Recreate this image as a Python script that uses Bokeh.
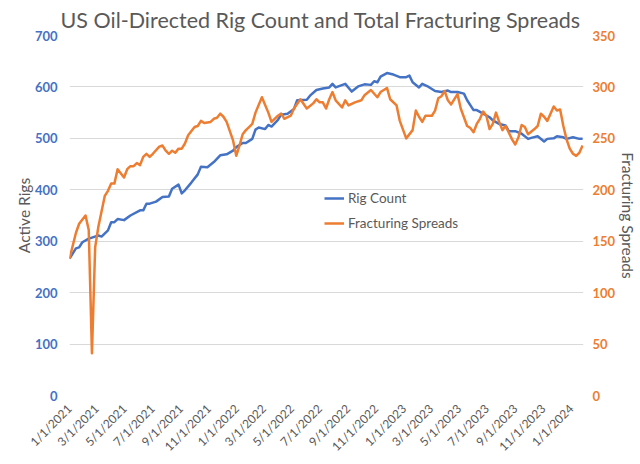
import pandas as pd
from bokeh.plotting import figure
from bokeh.models import Range1d, LinearAxis, FixedTicker, Legend, LegendItem
from bokeh.embed import file_html
from bokeh.resources import INLINE

START = "2021-01-01"

# weeks since 2021-01-01 and weekly values
rig_weeks = [0, 2, 3, 4, 6, 7, 9, 10, 12, 13, 14, 15, 17, 19, 22, 23, 24, 25, 27, 29,
             31, 32, 34, 35, 36, 38, 40, 41, 43, 45, 47, 49, 51, 52, 54, 55, 57, 58, 59, 61,
             62, 63, 65, 66, 68, 70, 71, 74, 75, 77, 79, 81, 82, 83, 86, 88, 90, 92, 94, 95,
             96, 97, 99, 101, 103, 105, 106, 107, 109, 110, 111, 112, 114, 116, 118, 119, 121, 123, 124, 126,
             127, 129, 131, 132, 134, 136, 137, 139, 141, 143, 144, 146, 148, 149, 151, 152, 154, 155, 157, 159, 160]
rig_count = [266, 286, 288, 298, 305, 307, 311, 309, 321, 337, 337, 343, 341, 350, 360, 360, 373, 373, 377, 386,
             387, 402, 410, 393, 399, 414, 430, 445, 444, 454, 467, 469, 476, 483, 491, 491, 499, 517, 521, 518,
             526, 523, 536, 546, 548, 557, 574, 575, 583, 594, 597, 599, 606, 599, 606, 591, 601, 605, 604, 611,
             609, 620, 627, 624, 619, 619, 622, 609, 599, 606, 603, 600, 592, 590, 593, 590, 590, 587, 574, 555,
             555, 548, 541, 535, 528, 525, 514, 514, 509, 499, 501, 504, 494, 499, 500, 504, 502, 499, 502, 499, 499]

frac_weeks = [0, 2, 3, 5, 6, 7, 8, 9, 11, 12, 13, 14, 15, 17, 18, 19, 20, 21, 22, 23,
              24, 25, 26, 28, 29, 30, 31, 32, 33, 34, 35, 36, 37, 39, 40, 41, 42, 44, 45, 46,
              47, 48, 49, 51, 52, 53, 54, 55, 56, 57, 58, 60, 62, 63, 65, 66, 67, 69, 70, 72,
              74, 76, 77, 78, 79, 80, 81, 82, 83, 85, 86, 87, 89, 91, 92, 94, 96, 97, 99, 100,
              102, 103, 105, 107, 108, 109, 110, 111, 113, 114, 115, 116, 117, 118, 119, 121, 122, 124, 125, 126,
              127, 128, 129, 130, 131, 132, 133, 134, 135, 136, 138, 139, 140, 141, 142, 143, 145, 146, 147, 148,
              149, 150, 151, 152, 153, 154, 155, 156, 157, 158, 159, 160]
frac_spreads = [133, 158, 167, 175, 161, 41, 144, 164, 194, 199, 206, 206, 220, 212, 220, 223, 223, 226, 224, 232,
                235, 232, 235, 242, 243, 238, 235, 238, 236, 240, 240, 245, 253, 261, 262, 267, 265, 266, 269, 270,
                274, 271, 266, 248, 233, 243, 254, 258, 261, 264, 275, 290, 275, 266, 272, 274, 269, 272, 279, 288,
                279, 284, 288, 285, 285, 279, 288, 295, 287, 280, 287, 282, 285, 287, 292, 297, 290, 295, 299, 288,
                282, 267, 250, 258, 277, 271, 266, 272, 272, 277, 289, 291, 296, 287, 283, 293, 279, 262, 260, 256,
                264, 269, 276, 272, 259, 264, 275, 266, 258, 262, 249, 244, 251, 263, 261, 254, 259, 262, 274, 271,
                267, 274, 281, 277, 278, 262, 249, 240, 235, 233, 236, 243]

tick_labels = ["1/1/2021", "3/1/2021", "5/1/2021", "7/1/2021", "9/1/2021", "11/1/2021",
               "1/1/2022", "3/1/2022", "5/1/2022", "7/1/2022", "9/1/2022", "11/1/2022",
               "1/1/2023", "3/1/2023", "5/1/2023", "7/1/2023", "9/1/2023", "11/1/2023", "1/1/2024"]

TITLE = "US Oil-Directed Rig Count and Total Fracturing Spreads"
LEFT_TITLE = "Active Rigs"
RIGHT_TITLE = "Fracturing Spreads"

start = pd.Timestamp(START)
rig_x = [w * 7 for w in rig_weeks]
frac_x = [w * 7 for w in frac_weeks]
tick_days = [int((pd.to_datetime(t, format="%m/%d/%Y") - start).days) for t in tick_labels]

BLUE = "#4472C4"
ORANGE = "#ED7D31"
GREY = "#595959"
FONT = "Lato"

X_END = 1122
p = figure(width=640, height=464, output_backend="svg", toolbar_location=None,
           x_range=Range1d(0, X_END), y_range=Range1d(0, 700),
           min_border_left=69, min_border_right=56, min_border_top=35, min_border_bottom=69)
p.extra_y_ranges = {"frac": Range1d(0, 350)}

p.title.text = TITLE
p.title.text_font = FONT
p.title.text_font_size = "21.5px"
p.title.text_font_style = "normal"
p.title.text_color = GREY
p.title.align = "left"
p.title.offset = -9
p.title.standoff = 6

p.outline_line_color = None
p.background_fill_color = "white"
p.border_fill_color = "white"

p.xgrid.grid_line_color = None
p.ygrid.grid_line_color = "#D9D9D9"
p.ygrid.grid_line_width = 1
p.yaxis.ticker = FixedTicker(ticks=list(range(0, 701, 100)))


def strip(ax):
    ax.axis_line_color = None
    ax.major_tick_line_color = None
    ax.minor_tick_line_color = None
    ax.major_tick_out = 0
    ax.major_tick_in = 0
    ax.minor_tick_out = 0
    ax.minor_tick_in = 0


# bottom axis
xa = p.xaxis[0]
xa.ticker = FixedTicker(ticks=tick_days)
xa.major_label_overrides = {d: t for d, t in zip(tick_days, tick_labels)}
xa.major_label_orientation = 0.785398
strip(xa)
xa.major_label_text_color = GREY
xa.major_label_text_font = FONT
xa.major_label_text_font_size = "12px"
xa.major_label_standoff = 11

# left axis
ya = p.yaxis[0]
strip(ya)
ya.axis_label = LEFT_TITLE
ya.axis_label_text_font = FONT
ya.axis_label_text_font_size = "15.5px"
ya.axis_label_text_font_style = "normal"
ya.axis_label_text_color = GREY
ya.axis_label_standoff = -1
ya.major_label_text_color = BLUE
ya.major_label_text_font = FONT
ya.major_label_text_font_style = "bold"
ya.major_label_text_font_size = "13px"
ya.major_label_standoff = 12

# right axis
ra = LinearAxis(y_range_name="frac", ticker=FixedTicker(ticks=list(range(0, 351, 50))))
strip(ra)
ra.axis_label = RIGHT_TITLE
ra.axis_label_text_font = FONT
ra.axis_label_text_font_size = "15.5px"
ra.axis_label_text_font_style = "normal"
ra.axis_label_text_color = GREY
ra.axis_label_standoff = 1
ra.major_label_text_color = ORANGE
ra.major_label_text_font = FONT
ra.major_label_text_font_style = "bold"
ra.major_label_text_font_size = "13px"
ra.major_label_standoff = 9
p.add_layout(ra, "right")

r1 = p.line(rig_x, rig_count, line_color=BLUE, line_width=2.5, line_join="round")
r2 = p.line(frac_x, frac_spreads, line_color=ORANGE, line_width=2.5, line_join="round",
            y_range_name="frac")

legend = Legend(items=[LegendItem(label="Rig Count", renderers=[r1]),
                       LegendItem(label="Fracturing Spreads", renderers=[r2])],
                location=(255, 162), orientation="vertical")
legend.border_line_color = None
legend.background_fill_alpha = 0
legend.padding = 0
legend.margin = 0
legend.spacing = 5
legend.glyph_width = 20
legend.label_standoff = 4
legend.label_text_font = FONT
legend.label_text_font_size = "13.5px"
legend.label_text_color = GREY
p.add_layout(legend, "center")

open("out.html", "w").write(file_html(p, INLINE))
